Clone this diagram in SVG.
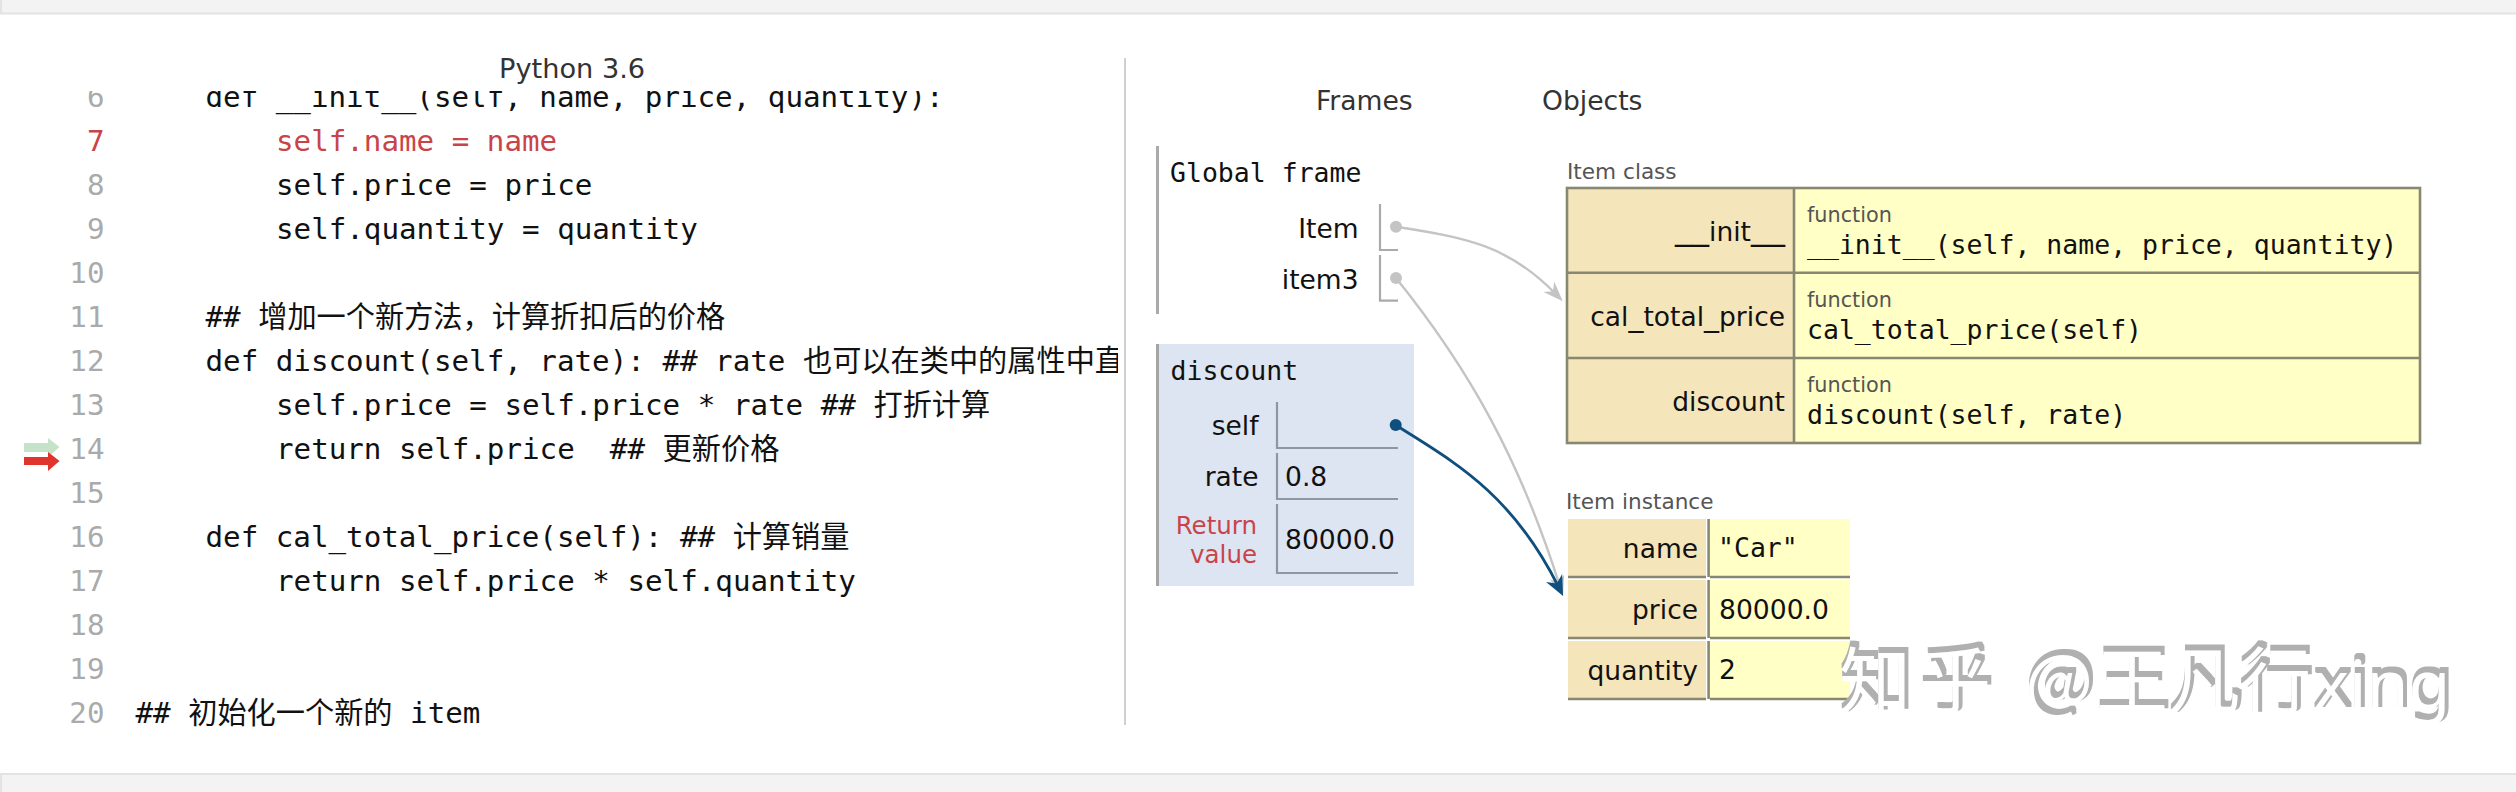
<svg xmlns="http://www.w3.org/2000/svg" width="2516" height="792" viewBox="0 0 2516 792">
<style>
.mono{font-family:"DejaVu Sans Mono","Noto Sans CJK SC",monospace}
.sans{font-family:"DejaVu Sans","Noto Sans CJK SC",sans-serif}
.code{font-size:29.2px;fill:#111}
.ln{font-size:29.2px;fill:#aaa;text-anchor:end}
.red{fill:#c9444a}
.head{font-size:26.6px;fill:#333}
.mem{font-size:26.5px;fill:#111}
.lab{font-size:26.5px;fill:#111;text-anchor:end}
.ret{font-size:24.5px;fill:#c9444a;text-anchor:end}
.val{font-size:26.6px;fill:#111}
.cap{font-size:21.6px;fill:#555}
.fn{font-size:20.8px;fill:#555}
.k{fill:#f5e5bb}
.v{fill:#ffffc6}
.tb{stroke:#888872;stroke-width:2.6;fill:none}
.cell{stroke:#8f95a6;stroke-width:2.2;fill:none}
.gcell{stroke:#aaa;stroke-width:2.2;fill:none}
.wire{fill:none;stroke:#c4c4c4;stroke-width:2.4}
.wireb{fill:none;stroke:#0f4f7d;stroke-width:2.8}
</style>
<defs>
<clipPath id="codeclip"><rect x="0" y="91" width="1118" height="660"/></clipPath>
<marker id="ag" markerUnits="userSpaceOnUse" viewBox="-22 -10 24 20" markerWidth="24" markerHeight="20" refX="-10" refY="0" orient="auto"><path d="M0 0L-20 -7.5L-14 0L-20 7.5Z" fill="#c4c4c4"/></marker>
<marker id="ab" markerUnits="userSpaceOnUse" viewBox="-22 -10 24 20" markerWidth="24" markerHeight="20" refX="-10" refY="0" orient="auto"><path d="M0 0L-20 -9L-14 0L-20 9Z" fill="#0f4f7d"/></marker>
<filter id="wm" filterUnits="userSpaceOnUse" x="1800" y="620" width="700" height="130">
<feMorphology in="SourceGraphic" operator="dilate" radius="2.2" result="bold"/>
<feFlood flood-color="#fff"/>
<feComposite in2="SourceAlpha" operator="in"/>
<feOffset dx="-2" dy="4" result="cut"/>
<feMerge><feMergeNode in="bold"/><feMergeNode in="cut"/></feMerge>
</filter>
</defs>
<rect width="2516" height="792" fill="#fff"/>
<g id="chrome">
<rect x="0" y="0" width="2516" height="14.5" fill="#e3e3e3"/>
<rect x="2" y="0" width="2514" height="12.5" fill="#f3f3f3"/>
<rect x="0" y="773" width="2516" height="19" fill="#e3e3e3"/>
<rect x="2" y="775" width="2514" height="17" fill="#f3f3f3"/>
<rect x="1124" y="58" width="2" height="667" fill="#d0d0d0"/>
</g>
<g id="code" clip-path="url(#codeclip)" xml:space="preserve">
<text class="mono ln" x="104.5" y="106.7">6</text>
<text class="mono ln red" x="104.5" y="150.7">7</text>
<text class="mono ln" x="104.5" y="194.7">8</text>
<text class="mono ln" x="104.5" y="238.7">9</text>
<text class="mono ln" x="104.5" y="282.7">10</text>
<text class="mono ln" x="104.5" y="326.7">11</text>
<text class="mono ln" x="104.5" y="370.7">12</text>
<text class="mono ln" x="104.5" y="414.7">13</text>
<text class="mono ln" x="104.5" y="458.7">14</text>
<text class="mono ln" x="104.5" y="502.7">15</text>
<text class="mono ln" x="104.5" y="546.7">16</text>
<text class="mono ln" x="104.5" y="590.7">17</text>
<text class="mono ln" x="104.5" y="634.7">18</text>
<text class="mono ln" x="104.5" y="678.7">19</text>
<text class="mono ln" x="104.5" y="722.7">20</text>
<text class="mono code" x="205.5" y="106.7">def __init__(self, name, price, quantity):</text>
<text class="mono code red" x="276" y="150.7">self.name = name</text>
<text class="mono code" x="276" y="194.7">self.price = price</text>
<text class="mono code" x="276" y="238.7">self.quantity = quantity</text>
<text class="mono code" x="205.5" y="326.7">## 增加一个新方法，计算折扣后的价格</text>
<text class="mono code" x="205.5" y="370.7">def discount(self, rate): ## rate 也可以在类中的属性中直</text>
<text class="mono code" x="276" y="414.7">self.price = self.price * rate ## 打折计算</text>
<text class="mono code" x="276" y="458.7" style="white-space:pre">return self.price  ## 更新价格</text>
<text class="mono code" x="205.5" y="546.7">def cal_total_price(self): ## 计算销量</text>
<text class="mono code" x="276" y="590.7">return self.price * self.quantity</text>
<text class="mono code" x="135.5" y="722.7">## 初始化一个新的 item</text>
</g>
<g id="pointers">
<path d="M24 443H48V438L59.5 447L48 457V452H24Z" fill="#c5e3c8"/>
<path d="M24 457H48V452L59.5 461L48 471V465H24Z" fill="#e0352d"/>
</g>
<g id="headers">
<text class="sans" x="499" y="78" font-size="27.2" fill="#333">Python 3.6</text>
<text class="sans head" x="1316" y="110">Frames</text>
<text class="sans head" x="1542" y="110">Objects</text>
</g>
<g id="global-frame">
<rect x="1156" y="146" width="3" height="168" fill="#aaa"/>
<text class="mono mem" x="1170" y="181.7">Global frame</text>
<text class="sans lab" x="1358.5" y="238.3">Item</text>
<path class="gcell" d="M1380 204V250H1398"/>
<text class="sans lab" x="1358.5" y="289">item3</text>
<path class="gcell" d="M1380 255V300.7H1398"/>
</g>
<g id="discount-frame">
<rect x="1156" y="344" width="258" height="242" fill="#dde5f2"/>
<rect x="1156" y="344" width="3" height="242" fill="#a5a5a5"/>
<text class="mono mem" x="1170.5" y="380">discount</text>
<text class="sans lab" x="1258.5" y="435">self</text>
<path class="cell" d="M1277 402V448H1398"/>
<text class="sans lab" x="1258.5" y="486">rate</text>
<path class="cell" d="M1277 453V499H1398"/>
<text class="sans val" x="1285" y="485.7">0.8</text>
<text class="sans ret" x="1257" y="534">Return</text>
<text class="sans ret" x="1257" y="563">value</text>
<path class="cell" d="M1277 504V573H1398"/>
<text class="sans val" x="1285" y="548.7">80000.0</text>
</g>
<g id="item-class">
<text class="sans cap" x="1567" y="178.5">Item class</text>
<rect class="k" x="1567" y="188" width="227" height="255"/>
<rect class="v" x="1794" y="188" width="626" height="255"/>
<rect class="tb" x="1567" y="188" width="853" height="255"/>
<path class="tb" d="M1794 188V443M1567 272.7H2420M1567 358H2420"/>
<text class="sans lab" x="1785" y="240.7"><tspan font-size="34" dy="-2">__</tspan><tspan dy="2">init</tspan><tspan font-size="34" dy="-2">__</tspan></text>
<text class="sans lab" x="1785" y="325.7">cal<tspan font-size="30">_</tspan>total<tspan font-size="30">_</tspan>price</text>
<text class="sans lab" x="1785" y="410.7">discount</text>
<text class="sans fn" x="1807" y="221.7">function</text>
<text class="mono mem" x="1807" y="254">__init__(self, name, price, quantity)</text>
<text class="sans fn" x="1807" y="306.7">function</text>
<text class="mono mem" x="1807" y="339">cal_total_price(self)</text>
<text class="sans fn" x="1807" y="391.7">function</text>
<text class="mono mem" x="1807" y="424">discount(self, rate)</text>
</g>
<g id="item-instance">
<text class="sans cap" x="1566" y="509">Item instance</text>
<rect class="k" x="1568" y="519" width="138" height="58"/>
<rect class="v" x="1710" y="519" width="140" height="58"/>
<rect class="k" x="1568" y="580" width="138" height="58"/>
<rect class="v" x="1710" y="580" width="140" height="58"/>
<rect class="k" x="1568" y="641" width="138" height="58"/>
<rect class="v" x="1710" y="641" width="140" height="58"/>
<path class="tb" d="M1708.6 519V577M1708.6 580V638M1708.6 641V699M1568 577H1706M1710 577H1850M1568 638H1706M1710 638H1850M1568 699H1706M1710 699H1850"/>
<text class="sans lab" x="1698" y="557.7">name</text>
<text class="sans lab" x="1698" y="618.8">price</text>
<text class="sans lab" x="1698" y="679.8">quantity</text>
<text class="mono mem" x="1718" y="557">"Car"</text>
<text class="sans val" x="1719" y="619">80000.0</text>
<text class="sans val" x="1719" y="679">2</text>
</g>
<g id="connectors">
<circle cx="1396" cy="226.7" r="6" fill="#c4c4c4"/>
<circle cx="1396" cy="278" r="6" fill="#c4c4c4"/>
<path class="wire" marker-end="url(#ag)" d="M1396 226.7C1470 238 1510 247 1555.8 294"/>
<path class="wire" marker-end="url(#ag)" d="M1396 278C1470 370 1520 460 1560 586.5"/>
<circle cx="1395.7" cy="425" r="6" fill="#0f4f7d"/>
<path class="wireb" marker-end="url(#ab)" d="M1395.7 425C1450 460 1510 490 1558.6 587"/>
</g>
<g id="watermark" filter="url(#wm)" fill="#b0b0b0">
<text x="1841 1921 2027 2098 2170 2241" y="703" font-size="72" font-family="Noto Sans CJK SC, sans-serif">知乎@王凡行</text>
<text x="2315" y="705" font-size="68" font-family="Noto Sans, sans-serif">xing</text>
</g>
</svg>
